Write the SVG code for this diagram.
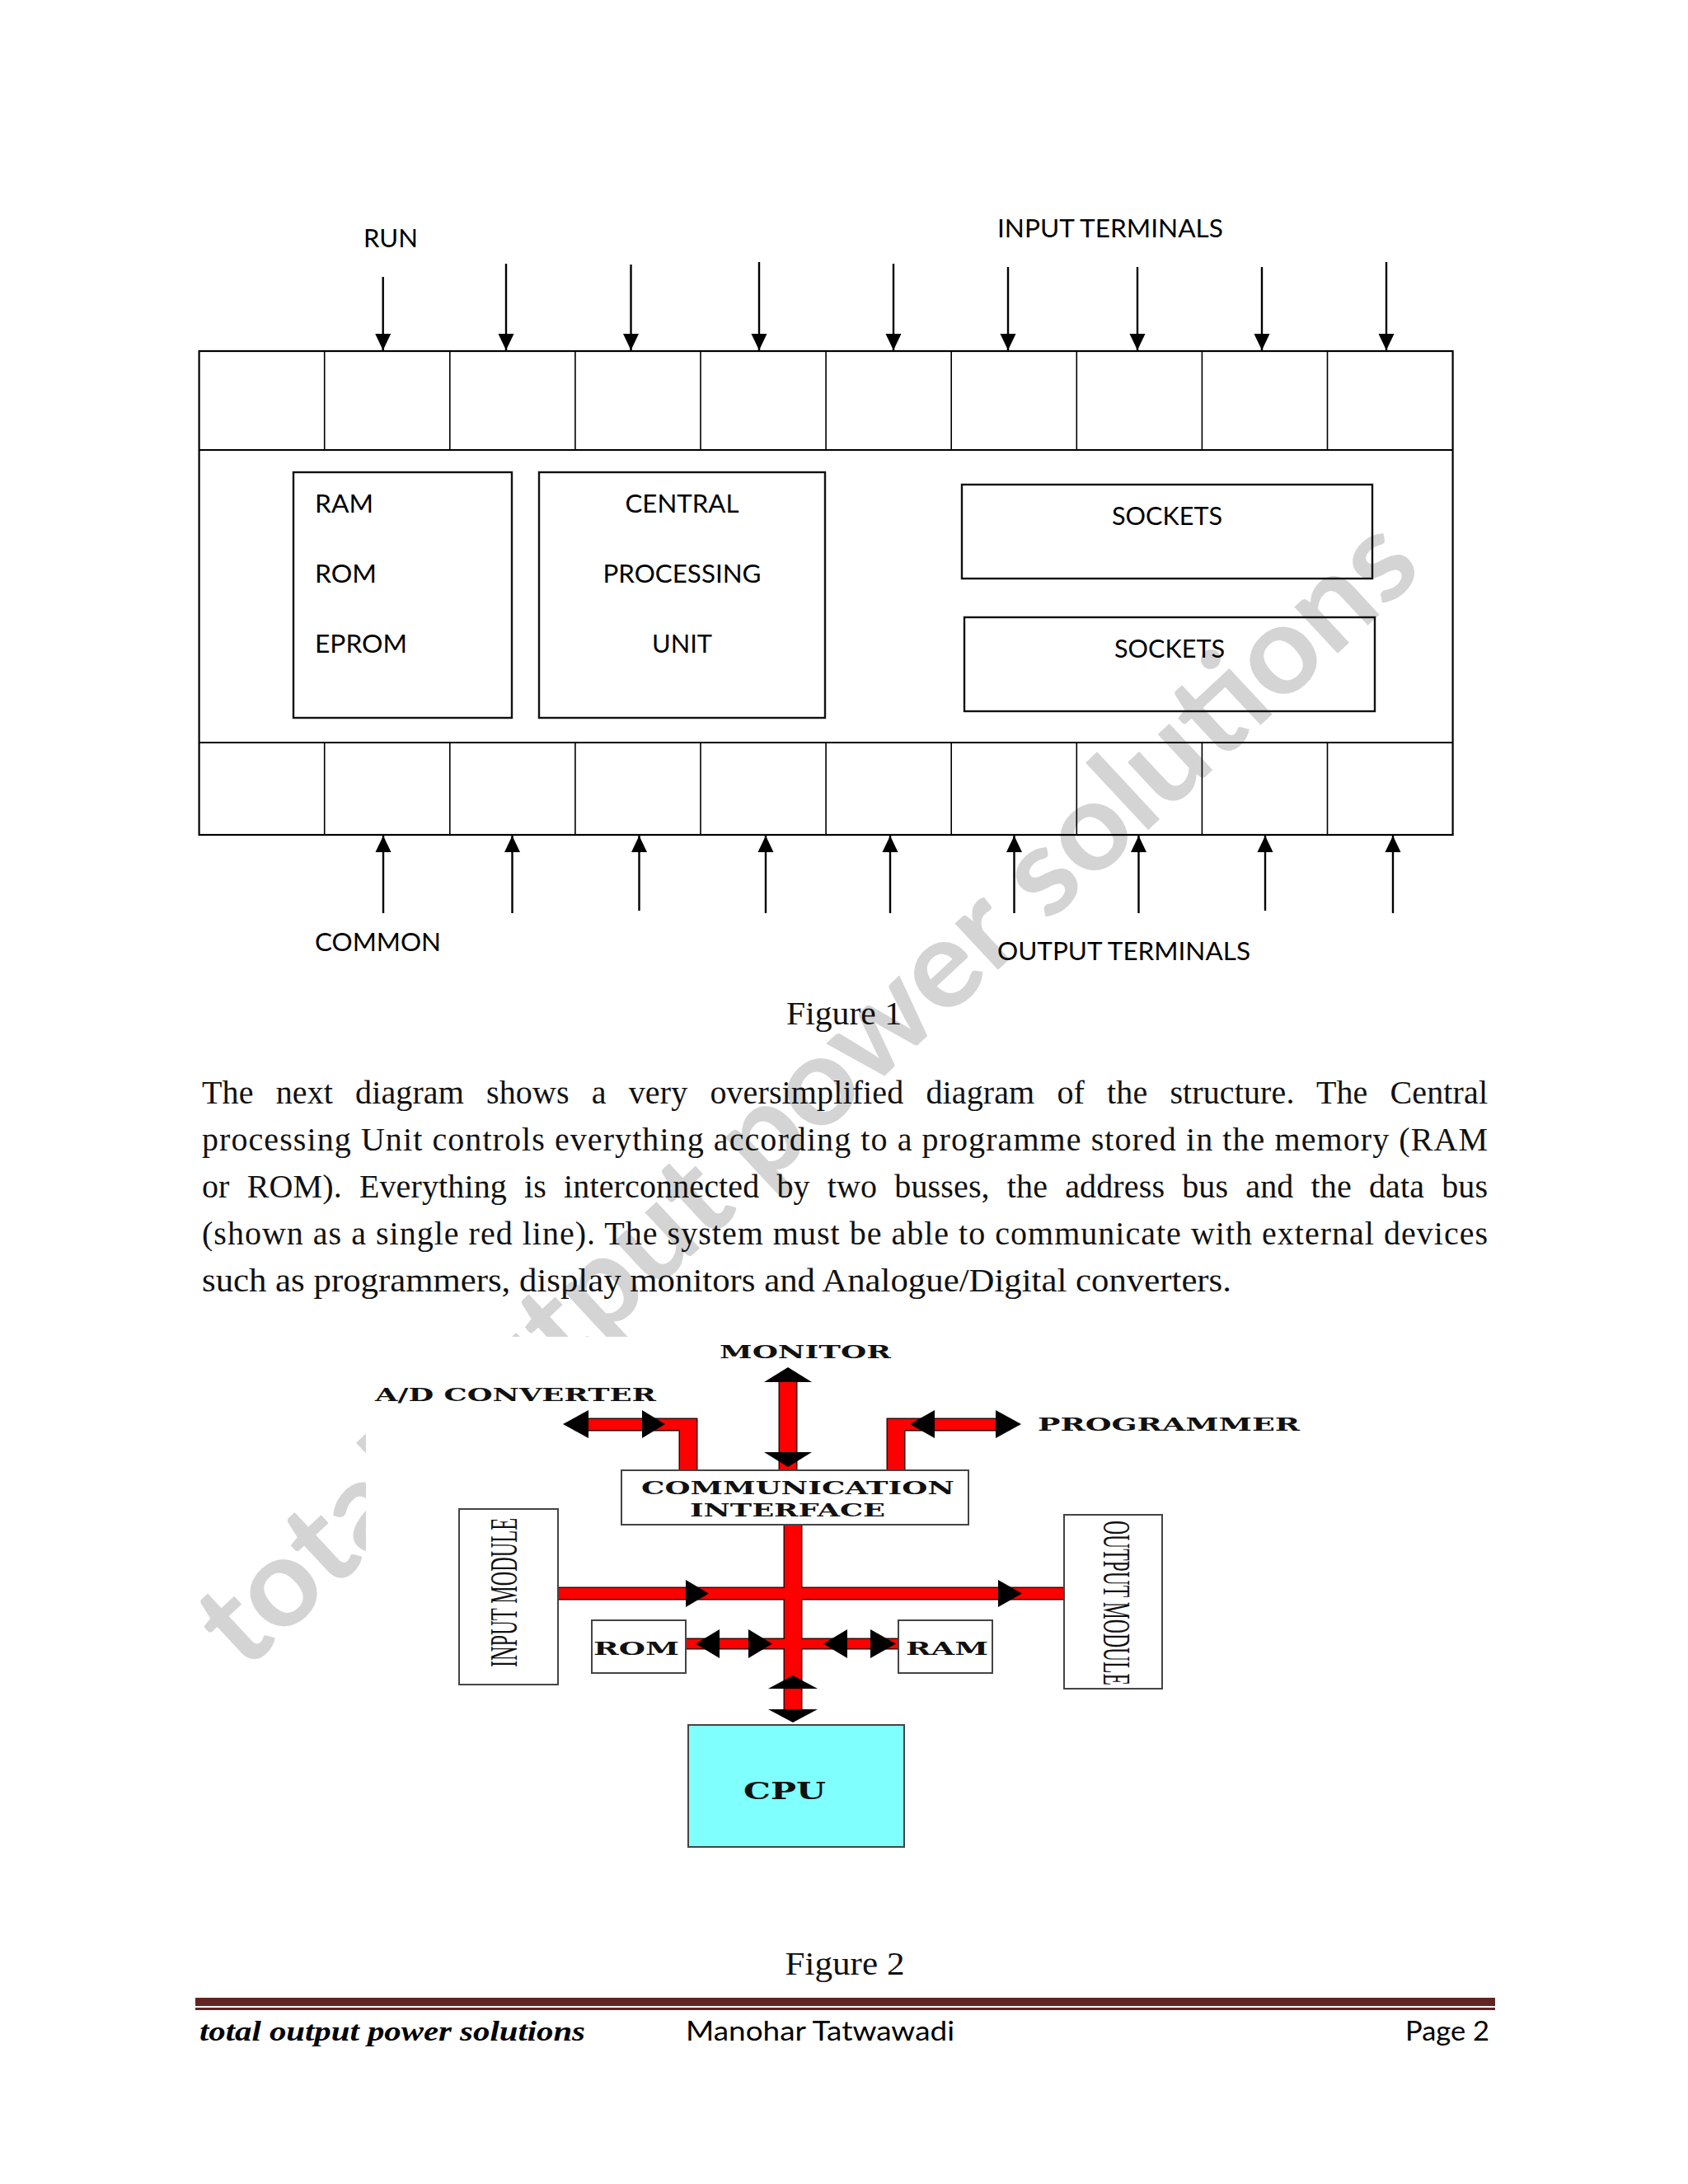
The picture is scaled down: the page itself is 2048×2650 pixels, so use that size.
<svg xmlns="http://www.w3.org/2000/svg" width="2048" height="2650" viewBox="0 0 2048 2650">
<style>
.bg{fill:#fff}
.frame{fill:none;stroke:#000;stroke-width:2.2}
.div{fill:none;stroke:#000;stroke-width:1.6}
.box{fill:none;stroke:#111;stroke-width:2.4}
.arr{stroke:#000;stroke-width:2.4;fill:none}
.cal{font-family:Lato,"Open Sans",sans-serif;font-size:31px;fill:#000}
.para{font-family:"Liberation Serif","Times New Roman",serif;font-size:40px;fill:#111}
.cap{font-family:"Liberation Serif","Times New Roman",serif;font-size:40px;fill:#111}
.f2b{font-family:"DejaVu Serif","Liberation Serif",serif;font-weight:bold;fill:#111}
.f2r{font-family:"Liberation Serif","DejaVu Serif",serif;fill:#111}
.f2box{fill:#fff;stroke:#444;stroke-width:2}
.busline{fill:none;stroke:#3a0000;stroke-width:3;stroke-linejoin:miter}
.bus{fill:#ff0000}
.head{fill:#000}
.wm{font-family:Lato,"Open Sans",sans-serif;font-weight:bold;font-size:150px;fill:#d4d4d4}
</style>
<defs>
<marker id="ah" viewBox="0 0 20 20" refX="20" refY="10" markerWidth="20" markerHeight="20" markerUnits="userSpaceOnUse" orient="auto">
<path d="M0,0.5 L20,10 L0,19.5 z" fill="#000"/>
</marker>
<g id="busShape">
<rect x="946" y="1677" width="20" height="107"/>
<path d="M700,1722 H845 V1784 H825 V1735 H700 Z"/>
<path d="M1210,1722 H1077 V1784 H1097 V1735 H1210 Z"/>
<rect x="952" y="1850" width="20" height="224"/>
<rect x="677" y="1927" width="614" height="13"/>
<rect x="832" y="1989" width="258" height="11"/>
</g>
</defs>
<rect class="bg" x="0" y="0" width="2048" height="2650"/>

<g id="watermark">
<text class="wm" transform="translate(296,2030) rotate(-43)" x="0" y="0" textLength="1960" lengthAdjust="spacingAndGlyphs">total output power solutions</text>
</g>

<!-- Figure 1 -->
<g id="plc-frame">
<rect class="frame" x="241.6" y="426" width="1521" height="587"/>
<line class="frame" x1="241.6" y1="546" x2="1762.6" y2="546"/>
<line class="frame" x1="241.6" y1="901" x2="1762.6" y2="901"/>
</g>
<g id="input-row">
<path class="div" d="M393.7,426V546M545.8,426V546M697.9,426V546M850,426V546M1002.1,426V546M1154.2,426V546M1306.3,426V546M1458.4,426V546M1610.5,426V546"/>
</g>
<g id="output-row">
<path class="div" d="M393.7,901V1013M545.8,901V1013M697.9,901V1013M850,901V1013M1002.1,901V1013M1154.2,901V1013M1306.3,901V1013M1458.4,901V1013M1610.5,901V1013"/>
</g>
<g id="memory">
<rect class="box" x="356" y="573" width="265" height="298"/>
<text class="cal" x="382" y="622" textLength="71" lengthAdjust="spacingAndGlyphs">RAM</text>
<text class="cal" x="382" y="707" textLength="75" lengthAdjust="spacingAndGlyphs">ROM</text>
<text class="cal" x="382" y="792" textLength="112" lengthAdjust="spacingAndGlyphs">EPROM</text>
</g>
<g id="cpu1">
<rect class="box" x="654" y="573" width="347" height="298"/>
<text class="cal" x="827.5" y="622" text-anchor="middle" textLength="138" lengthAdjust="spacingAndGlyphs">CENTRAL</text>
<text class="cal" x="827.5" y="707" text-anchor="middle" textLength="192" lengthAdjust="spacingAndGlyphs">PROCESSING</text>
<text class="cal" x="827.5" y="792" text-anchor="middle" textLength="73" lengthAdjust="spacingAndGlyphs">UNIT</text>
</g>
<g id="sockets1">
<rect class="box" x="1167" y="588" width="498" height="114"/>
<text class="cal" x="1416" y="637" text-anchor="middle" textLength="134" lengthAdjust="spacingAndGlyphs">SOCKETS</text>
</g>
<g id="sockets2">
<rect class="box" x="1170" y="749" width="498" height="114"/>
<text class="cal" x="1419" y="798" text-anchor="middle" textLength="134" lengthAdjust="spacingAndGlyphs">SOCKETS</text>
</g>
<g id="fig1-labels">
<text class="cal" x="441" y="300" textLength="66" lengthAdjust="spacingAndGlyphs">RUN</text>
<text class="cal" x="1210" y="288" textLength="274" lengthAdjust="spacingAndGlyphs">INPUT TERMINALS</text>
<text class="cal" x="382" y="1154" textLength="153" lengthAdjust="spacingAndGlyphs">COMMON</text>
<text class="cal" x="1210" y="1165" textLength="307" lengthAdjust="spacingAndGlyphs">OUTPUT TERMINALS</text>
</g>
<g id="fig1-connectors">
<line class="arr" x1="464.7" y1="336" x2="464.7" y2="425" marker-end="url(#ah)"/>
<line class="arr" x1="614" y1="320" x2="614" y2="425" marker-end="url(#ah)"/>
<line class="arr" x1="765.5" y1="321" x2="765.5" y2="425" marker-end="url(#ah)"/>
<line class="arr" x1="921" y1="318" x2="921" y2="425" marker-end="url(#ah)"/>
<line class="arr" x1="1084" y1="320" x2="1084" y2="425" marker-end="url(#ah)"/>
<line class="arr" x1="1223" y1="324" x2="1223" y2="425" marker-end="url(#ah)"/>
<line class="arr" x1="1380" y1="324" x2="1380" y2="425" marker-end="url(#ah)"/>
<line class="arr" x1="1531" y1="324" x2="1531" y2="425" marker-end="url(#ah)"/>
<line class="arr" x1="1682" y1="318" x2="1682" y2="425" marker-end="url(#ah)"/>
<line class="arr" x1="465" y1="1108" x2="465" y2="1014" marker-end="url(#ah)"/>
<line class="arr" x1="621.5" y1="1108" x2="621.5" y2="1014" marker-end="url(#ah)"/>
<line class="arr" x1="775.5" y1="1105" x2="775.5" y2="1014" marker-end="url(#ah)"/>
<line class="arr" x1="929" y1="1108" x2="929" y2="1014" marker-end="url(#ah)"/>
<line class="arr" x1="1080" y1="1108" x2="1080" y2="1014" marker-end="url(#ah)"/>
<line class="arr" x1="1230.5" y1="1108" x2="1230.5" y2="1014" marker-end="url(#ah)"/>
<line class="arr" x1="1381.5" y1="1108" x2="1381.5" y2="1014" marker-end="url(#ah)"/>
<line class="arr" x1="1535" y1="1105" x2="1535" y2="1014" marker-end="url(#ah)"/>
<line class="arr" x1="1690" y1="1108" x2="1690" y2="1014" marker-end="url(#ah)"/>
</g>
<text class="cap" x="1024" y="1243" text-anchor="middle" textLength="140" lengthAdjust="spacingAndGlyphs">Figure 1</text>

<!-- Paragraph -->
<g id="paragraph">
<text class="para" x="245" y="1339" word-spacing="17" textLength="1560" lengthAdjust="spacing"><tspan>The</tspan> <tspan>next</tspan> <tspan>diagram</tspan> <tspan>shows</tspan> <tspan>a</tspan> <tspan>very</tspan> <tspan>oversimplified</tspan> <tspan>diagram</tspan> <tspan>of</tspan> <tspan>the</tspan> <tspan>structure.</tspan> <tspan>The</tspan> <tspan>Central</tspan></text>
<text class="para" x="245" y="1396" textLength="1560" lengthAdjust="spacing"><tspan>processing</tspan> <tspan>Unit</tspan> <tspan>controls</tspan> <tspan>everything</tspan> <tspan>according</tspan> <tspan>to</tspan> <tspan>a</tspan> <tspan>programme</tspan> <tspan>stored</tspan> <tspan>in</tspan> <tspan>the</tspan> <tspan>memory</tspan> <tspan>(RAM</tspan></text>
<text class="para" x="245" y="1453" word-spacing="11" textLength="1560" lengthAdjust="spacing"><tspan>or</tspan> <tspan>ROM).</tspan> <tspan>Everything</tspan> <tspan>is</tspan> <tspan>interconnected</tspan> <tspan>by</tspan> <tspan>two</tspan> <tspan>busses,</tspan> <tspan>the</tspan> <tspan>address</tspan> <tspan>bus</tspan> <tspan>and</tspan> <tspan>the</tspan> <tspan>data</tspan> <tspan>bus</tspan></text>
<text class="para" x="245" y="1510" textLength="1560" lengthAdjust="spacing"><tspan>(shown</tspan> <tspan>as</tspan> <tspan>a</tspan> <tspan>single</tspan> <tspan>red</tspan> <tspan>line).</tspan> <tspan>The</tspan> <tspan>system</tspan> <tspan>must</tspan> <tspan>be</tspan> <tspan>able</tspan> <tspan>to</tspan> <tspan>communicate</tspan> <tspan>with</tspan> <tspan>external</tspan> <tspan>devices</tspan></text>
<text class="para" x="245" y="1567" textLength="1249" lengthAdjust="spacingAndGlyphs"><tspan>such</tspan> <tspan>as</tspan> <tspan>programmers,</tspan> <tspan>display</tspan> <tspan>monitors</tspan> <tspan>and</tspan> <tspan>Analogue/Digital</tspan> <tspan>converters.</tspan></text>
</g>

<!-- Figure 2 -->
<rect class="bg" x="444" y="1622" width="1160" height="640"/>
<g id="fig2-connectors">
<use href="#busShape" class="busline"/>
<use href="#busShape" class="bus"/>
<polygon class="head" points="956,1659 927,1677 985,1677"/>
<polygon class="head" points="927,1762 985,1762 956,1780"/>
<polygon class="head" points="683,1728 714,1711 714,1745"/>
<polygon class="head" points="779,1711 807,1728 779,1745"/>
<polygon class="head" points="1104,1728 1134,1711 1134,1745"/>
<polygon class="head" points="1208,1711 1239,1728 1208,1745"/>
<polygon class="head" points="832,1917 860,1933.5 832,1950"/>
<polygon class="head" points="1211,1917 1240,1933.5 1211,1950"/>
<polygon class="head" points="844,1994.5 873,1977 873,2012"/>
<polygon class="head" points="908,1977 937,1994.5 908,2012"/>
<polygon class="head" points="999,1994.5 1028,1977 1028,2012"/>
<polygon class="head" points="1056,1977 1087,1994.5 1056,2012"/>
<polygon class="head" points="962,2033 932,2049 992,2049"/>
<polygon class="head" points="932,2074 992,2074 962,2090"/>
</g>
<g id="comm-interface">
<rect class="f2box" x="754" y="1784" width="421" height="66"/>
<text class="f2b" x="778" y="1813" font-size="23" textLength="380" lengthAdjust="spacingAndGlyphs">COMMUNICATION</text>
<text class="f2b" x="837" y="1840" font-size="23" textLength="237" lengthAdjust="spacingAndGlyphs">INTERFACE</text>
</g>
<g id="monitor">
<text class="f2b" x="873" y="1648" font-size="23" textLength="208" lengthAdjust="spacingAndGlyphs">MONITOR</text>
</g>
<g id="ad-converter">
<text class="f2b" x="455" y="1700" font-size="23" textLength="341" lengthAdjust="spacingAndGlyphs">A/D CONVERTER</text>
</g>
<g id="programmer">
<text class="f2b" x="1259" y="1736" font-size="23" textLength="318" lengthAdjust="spacingAndGlyphs">PROGRAMMER</text>
</g>
<g id="input-module">
<rect class="f2box" x="557" y="1831" width="120" height="213"/>
<text class="f2r" transform="translate(627,2023) rotate(-90)" x="0" y="0" font-size="46" textLength="181" lengthAdjust="spacingAndGlyphs">INPUT MODULE</text>
</g>
<g id="output-module">
<rect class="f2box" x="1291" y="1838" width="119" height="211"/>
<text class="f2r" transform="translate(1339,1845) rotate(90)" x="0" y="0" font-size="46" textLength="200" lengthAdjust="spacingAndGlyphs">OUTPUT MODULE</text>
</g>
<g id="rom">
<rect class="f2box" x="718" y="1966" width="114" height="64"/>
<text class="f2b" x="720" y="2008" font-size="22" font-weight="normal" textLength="104" lengthAdjust="spacingAndGlyphs">ROM</text>
</g>
<g id="ram">
<rect class="f2box" x="1090" y="1966" width="114" height="64"/>
<text class="f2b" x="1099" y="2008" font-size="22" textLength="100" lengthAdjust="spacingAndGlyphs">RAM</text>
</g>
<g id="cpu">
<rect x="835" y="2093" width="262" height="148" fill="#80ffff" stroke="#444" stroke-width="2"/>
<text class="f2b" x="902" y="2183" font-size="27" textLength="100" lengthAdjust="spacingAndGlyphs">CPU</text>
</g>
<text class="cap" x="1025" y="2396" text-anchor="middle" textLength="145" lengthAdjust="spacingAndGlyphs">Figure 2</text>

<!-- Footer -->
<g id="footer">
<rect x="237" y="2424" width="1577" height="10" fill="#622423"/>
<rect x="237" y="2436" width="1577" height="3" fill="#622423"/>
<text x="242" y="2476" font-family="'Liberation Serif',serif" font-weight="bold" font-style="italic" font-size="33" fill="#000" textLength="468" lengthAdjust="spacingAndGlyphs">total output power solutions</text>
<text x="832" y="2476" font-family="Lato,'Open Sans',sans-serif" font-size="33" fill="#000" textLength="326" lengthAdjust="spacingAndGlyphs">Manohar Tatwawadi</text>
<text x="1807" y="2476" text-anchor="end" font-family="Lato,'Open Sans',sans-serif" font-size="33" fill="#000" textLength="102" lengthAdjust="spacingAndGlyphs">Page 2</text>
</g>
</svg>
